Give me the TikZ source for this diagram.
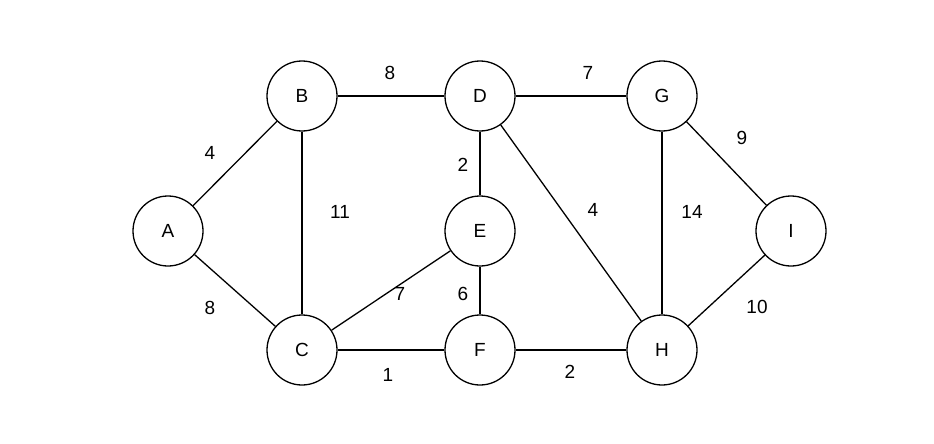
\documentclass[tikz,border=0pt]{standalone}
\usepackage{fontspec}
\setmainfont{Liberation Sans}
\begin{document}
\begin{tikzpicture}[x=1pt,y=-1pt,
  vtx/.style={circle,draw,line width=1.3pt,minimum size=70pt,inner sep=0pt,font=\fontsize{19}{19}\selectfont},
  edge/.style={line width=1.3pt},
  wt/.style={font=\fontsize{19}{19}\selectfont}]
\useasboundingbox (0,0) rectangle (934,444);
\node[vtx] (A) at (168,231) {A};
\node[vtx] (B) at (302,96) {B};
\node[vtx] (C) at (302,350) {C};
\node[vtx] (D) at (480,96) {D};
\node[vtx] (E) at (480,231) {E};
\node[vtx] (F) at (480,350) {F};
\node[vtx] (G) at (662,96) {G};
\node[vtx] (H) at (662,350) {H};
\node[vtx] (I) at (791,231) {I};
\draw[edge] (A)--(B); \draw[edge] (A)--(C);
\draw[edge] (B)--(D); \draw[edge] (B)--(C);
\draw[edge] (C)--(E); \draw[edge] (C)--(F);
\draw[edge] (D)--(E); \draw[edge] (D)--(G); \draw[edge] (D)--(H);
\draw[edge] (E)--(F); \draw[edge] (F)--(H);
\draw[edge] (G)--(H); \draw[edge] (G)--(I); \draw[edge] (H)--(I);
\node[wt] (w1) at (210,153) {4};
\node[wt] (w2) at (210,308) {8};
\node[wt] (w3) at (390,73) {8};
\node[wt] (w4) at (340,212) {11};
\node[wt] (w5) at (463,165) {2};
\node[wt] (w6) at (400,294) {7};
\node[wt] (w7) at (463,294) {6};
\node[wt] (w8) at (388,375) {1};
\node[wt] (w9) at (588,73) {7};
\node[wt] (w10) at (593,210) {4};
\node[wt] (w11) at (692,212) {14};
\node[wt] (w12) at (742,138) {9};
\node[wt] (w13) at (757,307) {10};
\node[wt] (w14) at (570,372) {2};
\end{tikzpicture}
\end{document}
